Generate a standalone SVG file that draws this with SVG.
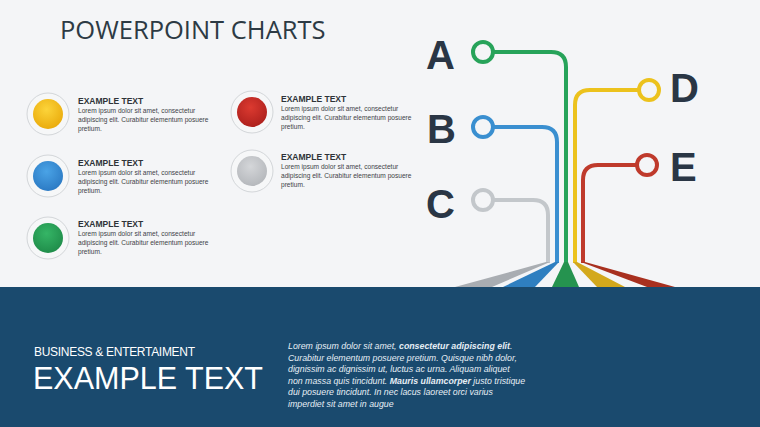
<svg xmlns="http://www.w3.org/2000/svg" width="760" height="427" viewBox="0 0 760 427">
<defs>
<radialGradient id="gy" cx="0.45" cy="0.35" r="0.7"><stop offset="0" stop-color="#fcd43a"/><stop offset="1" stop-color="#e9a90a"/></radialGradient>
<radialGradient id="gb" cx="0.45" cy="0.35" r="0.7"><stop offset="0" stop-color="#4aa3e6"/><stop offset="1" stop-color="#2a78c2"/></radialGradient>
<radialGradient id="gg" cx="0.45" cy="0.35" r="0.7"><stop offset="0" stop-color="#35b566"/><stop offset="1" stop-color="#1e8a48"/></radialGradient>
<radialGradient id="gr" cx="0.45" cy="0.35" r="0.7"><stop offset="0" stop-color="#dc3a30"/><stop offset="1" stop-color="#ab1f1c"/></radialGradient>
<radialGradient id="gs" cx="0.45" cy="0.35" r="0.7"><stop offset="0" stop-color="#d4d6d9"/><stop offset="1" stop-color="#b3b6ba"/></radialGradient>
<style>
.ring{fill:#f6f7f8;stroke:#d3d6d9;stroke-width:1}
.hd{font-family:"Liberation Sans",Arial,sans-serif;font-weight:bold;font-size:8.5px;fill:#2e3338}
.bd{font-family:"Liberation Sans",Arial,sans-serif;font-size:6.6px;fill:#3e4347}
.ltr{font-family:"Liberation Sans",Arial,sans-serif;font-weight:bold;font-size:40px;fill:#2a3645}
.ln{fill:none;stroke-width:4}
.node{fill:#f4f5f7;stroke-width:4}
.p{font-family:"Liberation Sans",Arial,sans-serif;font-style:italic;font-size:8.8px;fill:#e6eef5}
</style>
</defs>
<rect x="0" y="0" width="760" height="427" fill="#f4f5f7"/>
<rect x="0" y="287" width="760" height="140" fill="#1a4a6e"/>
<text x="60" y="39" font-family="'Open Sans','Noto Sans',sans-serif" font-size="25.5" fill="#2d3a44">POWERPOINT CHARTS</text>

<g id="item-yellow">
<circle class="ring" cx="48" cy="114" r="21"/><circle cx="48" cy="114" r="15" fill="url(#gy)"/>
<text class="hd" x="78" y="104">EXAMPLE TEXT</text>
<text class="bd" x="78" y="113">Lorem ipsum dolor sit amet, consectetur</text>
<text class="bd" x="78" y="122">adipiscing elit. Curabitur elementum posuere</text>
<text class="bd" x="78" y="131">pretium.</text>
</g>
<g id="item-blue">
<circle class="ring" cx="48" cy="176" r="21"/><circle cx="48" cy="176" r="15" fill="url(#gb)"/>
<text class="hd" x="78" y="166">EXAMPLE TEXT</text>
<text class="bd" x="78" y="175">Lorem ipsum dolor sit amet, consectetur</text>
<text class="bd" x="78" y="184">adipiscing elit. Curabitur elementum posuere</text>
<text class="bd" x="78" y="193">pretium.</text>
</g>
<g id="item-green">
<circle class="ring" cx="48" cy="238" r="21"/><circle cx="48" cy="238" r="15" fill="url(#gg)"/>
<text class="hd" x="78" y="227">EXAMPLE TEXT</text>
<text class="bd" x="78" y="236">Lorem ipsum dolor sit amet, consectetur</text>
<text class="bd" x="78" y="245">adipiscing elit. Curabitur elementum posuere</text>
<text class="bd" x="78" y="254">pretium.</text>
</g>
<g id="item-red">
<circle class="ring" cx="252" cy="112" r="21"/><circle cx="252" cy="112" r="15" fill="url(#gr)"/>
<text class="hd" x="281" y="102">EXAMPLE TEXT</text>
<text class="bd" x="281" y="111">Lorem ipsum dolor sit amet, consectetur</text>
<text class="bd" x="281" y="120">adipiscing elit. Curabitur elementum posuere</text>
<text class="bd" x="281" y="129">pretium.</text>
</g>
<g id="item-gray">
<circle class="ring" cx="252" cy="171" r="21"/><circle cx="252" cy="171" r="15" fill="url(#gs)"/>
<text class="hd" x="281" y="160">EXAMPLE TEXT</text>
<text class="bd" x="281" y="169">Lorem ipsum dolor sit amet, consectetur</text>
<text class="bd" x="281" y="178">adipiscing elit. Curabitur elementum posuere</text>
<text class="bd" x="281" y="187">pretium.</text>
</g>

<g id="connectors">
<path class="ln" stroke="#27a35a" d="M493 52 H551 Q566 52 566 67 V263"/>
<path class="ln" stroke="#3a8fd0" d="M493 127 H542 Q557 127 557 142 V263"/>
<path class="ln" stroke="#c3c7cb" d="M493 200 H533 Q548 200 548 215 V263"/>
<path class="ln" stroke="#ecc21d" d="M639 90 H590 Q575 90 575 105 V263"/>
<path class="ln" stroke="#bf3a2c" d="M637 165 H598 Q583 165 583 180 V263"/>
<polygon fill="#a9adb2" points="546,262 550,262 492,287 455,287"/>
<polygon fill="#2f7fc0" points="555,262 559,262 535,287 503,287"/>
<polygon fill="#25934f" points="564,262 568,262 579,287 552,287"/>
<polygon fill="#d3a81c" points="573,262 577,262 625,287 597,287"/>
<polygon fill="#a8301f" points="581,262 585,262 675,287 647,287"/>
</g>

<g id="node-A"><circle class="node" stroke="#27a35a" cx="483" cy="52" r="10"/><text class="ltr" x="426" y="69">A</text></g>
<g id="node-B"><circle class="node" stroke="#3a8fd0" cx="483" cy="127" r="10"/><text class="ltr" x="427" y="143">B</text></g>
<g id="node-C"><circle class="node" stroke="#c3c7cb" cx="483" cy="200" r="10"/><text class="ltr" x="426" y="218">C</text></g>
<g id="node-D"><circle class="node" stroke="#ecc21d" cx="649" cy="90" r="10"/><text class="ltr" x="670" y="102">D</text></g>
<g id="node-E"><circle class="node" stroke="#bf3a2c" cx="647" cy="165" r="10"/><text class="ltr" x="670" y="181">E</text></g>

<g id="footer">
<text x="34" y="356" font-family="'Liberation Sans',Arial,sans-serif" font-size="12" fill="#ffffff" letter-spacing="-0.3">BUSINESS &amp; ENTERTAIMENT</text>
<text x="33" y="389" font-family="'Liberation Sans',Arial,sans-serif" font-size="30.5" fill="#ffffff">EXAMPLE TEXT</text>
<text class="p" x="288" y="349">Lorem ipsum dolor sit amet, <tspan font-weight="bold">consectetur adipiscing elit</tspan>.</text>
<text class="p" x="288" y="360.5">Curabitur elementum posuere pretium. Quisque nibh dolor,</text>
<text class="p" x="288" y="372">dignissim ac dignissim ut, luctus ac urna. Aliquam aliquet</text>
<text class="p" x="288" y="383.5">non massa quis tincidunt. <tspan font-weight="bold">Mauris ullamcorper</tspan> justo tristique</text>
<text class="p" x="288" y="395">dui posuere tincidunt. In nec lacus laoreet orci varius</text>
<text class="p" x="288" y="406.5">imperdiet sit amet in augue</text>
</g>
</svg>
